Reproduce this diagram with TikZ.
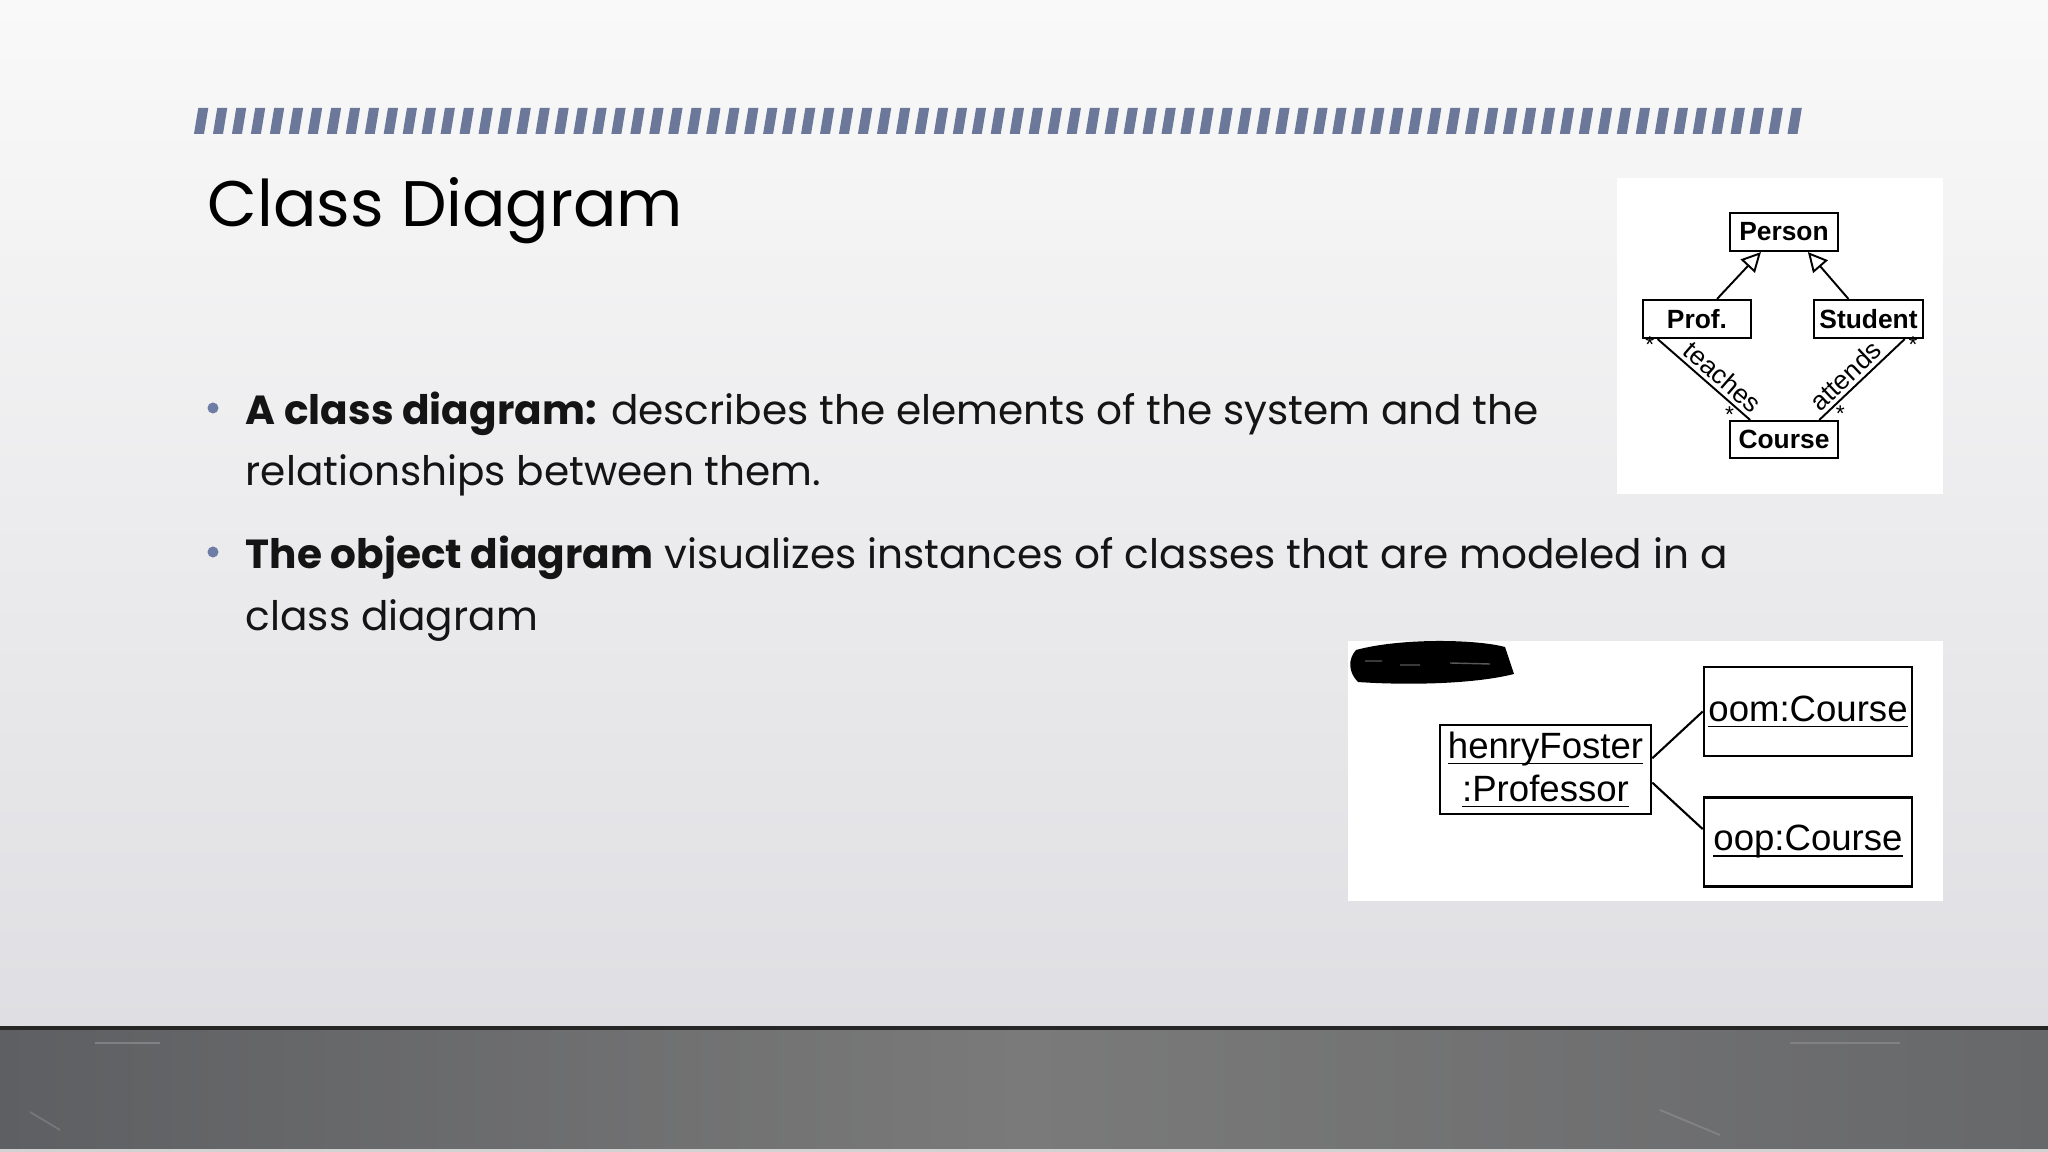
\documentclass[tikz,border=0pt]{standalone}
\usepackage{fontspec}
\setmainfont{Poppins}
\newfontfamily\umlfont{Liberation Sans}
\usepackage{tikz}
\usetikzlibrary{arrows.meta,calc}
\definecolor{stripeblue}{HTML}{6B7899}
\definecolor{bulletblue}{HTML}{6F7DA6}
\definecolor{walltop}{HTML}{F9F9F9}
\definecolor{wallbottom}{HTML}{DFDFE3}
\definecolor{floormid}{HTML}{7A7A7A}
\definecolor{floorleft}{HTML}{5E5F62}
\definecolor{floorright}{HTML}{67686A}
\definecolor{textblack}{HTML}{141414}

\newcommand{\objname}[1]{\setbox0=\hbox{#1}\rlap{\rule[-1.7pt]{\wd0}{0.45pt}}\box0}

\tikzset{
  classbox/.style={draw, line width=0.6pt, inner sep=0pt, minimum width=1.08cm, minimum height=0.38cm, font=\umlfont\bfseries\fontsize{7.5}{9}\selectfont},
  objbox/.style={draw, line width=0.7pt, inner sep=0pt, minimum width=2.08cm, minimum height=0.89cm, align=center, font=\umlfont\fontsize{10.4}{12.2}\selectfont},
  assoc/.style={line width=0.55pt},
  inherit/.style={line width=0.55pt, -{Triangle[open, length=5.5pt, width=5.5pt]}},
  link/.style={line width=0.6pt},
  mult/.style={font=\umlfont\fontsize{6.5}{6.5}\selectfont, inner sep=0.5pt},
  rolelabel/.style={font=\umlfont\fontsize{7.5}{8}\selectfont, sloped, inner sep=1pt},
  bodytext/.style={anchor=base west, inner sep=0pt, text=textblack, font=\fontsize{11.55}{14}\selectfont},
  bulletdot/.style={circle, fill=bulletblue, inner sep=0pt, minimum size=0.11cm}
}

\begin{document}
\begin{tikzpicture}[x=0.01cm, y=-0.01cm]
\useasboundingbox (0,0) rectangle (2048,1152);
% wall and floor
\shade[top color=walltop, bottom color=wallbottom] (0,0) rectangle (2048,1028);
\shade[left color=floorleft, right color=floorright, middle color=floormid] (0,1028) rectangle (2048,1152);
\draw[line width=0.9pt, black!85] (0,1028) -- (2048,1028);
\fill[gray!35] (0,1149) rectangle (2048,1152);
\draw[white, opacity=0.2, line width=0.5pt] (95,1043) -- (160,1043);
\draw[white, opacity=0.15, line width=0.5pt] (30,1112) -- (60,1130);
\draw[white, opacity=0.15, line width=0.5pt] (1790,1043) -- (1900,1043);
\draw[white, opacity=0.15, line width=0.5pt] (1660,1110) -- (1720,1135);

% striped band
\foreach \i in {0,...,84}
  \fill[stripeblue] ({194+\i*18.97},134) -- ++(10,0) -- ++(4.3,-26) -- ++(-10,0) -- cycle;

% title and bullets
\node[anchor=base west, inner sep=0pt, text=black, font=\fontsize{18.3}{22}\selectfont] (title) at (207,227) {Class Diagram};
\node[bulletdot] (dot1) at (213,408) {};
\node[bodytext] (line1) at (245,425) {\textbf{A class diagram:} describes the elements of the system and the};
\node[bodytext] (line2) at (245,486) {relationships between them.};
\node[bulletdot] (dot2) at (213,552) {};
\node[bodytext] (line3) at (245,569) {\textbf{The object diagram} visualizes instances of classes that are modeled in a};
\node[bodytext] (line4) at (245,630) {class diagram};

% class diagram
\fill[white] (1617,178) rectangle (1943,494);
\node[classbox] (person) at (1784,232) {Person};
\node[classbox] (prof) at (1697,319) {Prof.};
\node[classbox, minimum width=1.09cm] (student) at (1868.5,319) {Student};
\node[classbox, minimum height=0.37cm] (course) at (1784,439.5) {Course};
\draw[inherit] (prof.45) -- (person.-139);
\draw[inherit] (student.135) -- (person.-40);
\draw[assoc] (prof.-153) -- node[rolelabel, pos=0.6, above] {teaches}
  node[mult, pos=0.07, left=2pt] {*} node[mult, pos=0.93, left=2pt] {*} (course.150);
\draw[assoc] (course.29) -- node[rolelabel, pos=0.42, above] {attends}
  node[mult, pos=0.08, right=2pt] {*} node[mult, pos=0.93, right=2pt] {*} (student.-29);

% object diagram
\fill[white] (1348,641) rectangle (1943,901);
% blacked out heading
\fill[black] (1356,650) .. controls (1400,638) and (1475,639) .. (1505,647) -- (1514,674) .. controls (1470,685) and (1400,685) .. (1358,682) .. controls (1348,672) and (1348,659) .. (1356,650) -- cycle;
\draw[black!65, line width=0.4pt] (1365,661) -- (1382,661) (1400,665) -- (1420,665) (1450,663) -- (1490,664);
\node[objbox, minimum width=2.11cm] (henry) at (1545.5,769.5) {\objname{henryFoster}\\\objname{:Professor}};
\node[objbox] (oom) at (1808,711.5) {\objname{oom:Course}};
\node[objbox] (oop) at (1808,842) {\objname{oop:Course}};
\draw[link] (henry.6) -- (oom.west);
\draw[link] (henry.-7) -- (oop.173);
\end{tikzpicture}
\end{document}
